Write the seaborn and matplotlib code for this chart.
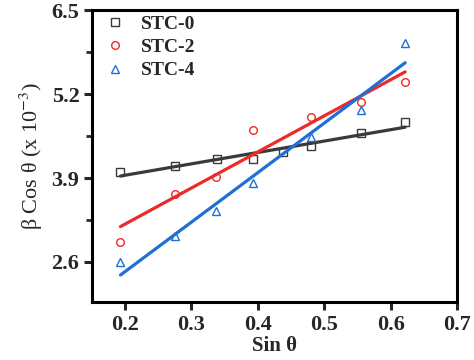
import numpy as np
import pandas as pd
import seaborn as sns
import matplotlib.pyplot as plt
from matplotlib.ticker import MultipleLocator

# data
x0 = [0.193, 0.275, 0.338, 0.392, 0.438, 0.480, 0.555, 0.622]
y0 = [4.00, 4.08, 4.20, 4.20, 4.30, 4.39, 4.60, 4.76]
x2 = [0.193, 0.275, 0.337, 0.392, 0.480, 0.555, 0.622]
y2 = [2.91, 3.66, 3.91, 4.64, 4.85, 5.08, 5.38]
x4 = [0.193, 0.275, 0.337, 0.392, 0.480, 0.555, 0.622]
y4 = [2.60, 3.00, 3.39, 3.82, 4.54, 4.96, 5.99]

series = [
    ('STC-0', x0, y0, 's', '#3a3a3a'),
    ('STC-2', x2, y2, 'o', '#ec2a2a'),
    ('STC-4', x4, y4, '^', '#1f6fd6'),
]

sns.set_style('ticks')
plt.rcParams['font.family'] = ['Liberation Serif', 'DejaVu Serif']
plt.rcParams['mathtext.fontset'] = 'stix'

fig = plt.figure(figsize=(4.74, 3.6), dpi=100)
ax = fig.add_axes([0.194, 0.161, 0.770, 0.811])

for name, xs, ys, mk, col in series:
    df = pd.DataFrame({'x': xs, 'y': ys})
    ax.plot(df['x'], df['y'], linestyle='none', marker=mk, markersize=5.5,
            markerfacecolor='none', markeredgecolor=col, markeredgewidth=1.0,
            label=name)
    sns.regplot(x='x', y='y', data=df, scatter=False, ci=None, ax=ax,
                line_kws={'color': col, 'lw': 2.3})

ax.set_xlim(0.15, 0.7)
ax.set_ylim(1.98, 6.5)
ax.set_xticks([0.2, 0.3, 0.4, 0.5, 0.6, 0.7])
ax.set_yticks([2.6, 3.9, 5.2, 6.5])
ax.yaxis.set_minor_locator(MultipleLocator(0.65))
ax.set_xticklabels(['0.2', '0.3', '0.4', '0.5', '0.6', '0.7'])
ax.set_yticklabels(['2.6', '3.9', '5.2', '6.5'])

for s in ax.spines.values():
    s.set_linewidth(2.2)
    s.set_color('black')
ax.tick_params(axis='both', which='major', direction='out', length=6, width=2.2,
               labelsize=16, pad=3)
ax.tick_params(axis='y', which='minor', direction='out', length=4, width=2.0)
for lab in ax.get_xticklabels() + ax.get_yticklabels():
    lab.set_fontweight('bold')

ax.set_xlabel('Sin θ', fontsize=15, fontweight='bold', labelpad=1)
ax.set_ylabel(r'β Cos θ (x 10$^{-3}$)', fontsize=16, labelpad=5)

leg = ax.legend(loc='upper left', bbox_to_anchor=(0.018, 1.0), frameon=False,
                fontsize=14, handletextpad=0.75, borderaxespad=0.0,
                labelspacing=0.3, handlelength=1.2, borderpad=0.25)
for t in leg.get_texts():
    t.set_fontweight('bold')

fig.savefig('out.png', dpi=100)
